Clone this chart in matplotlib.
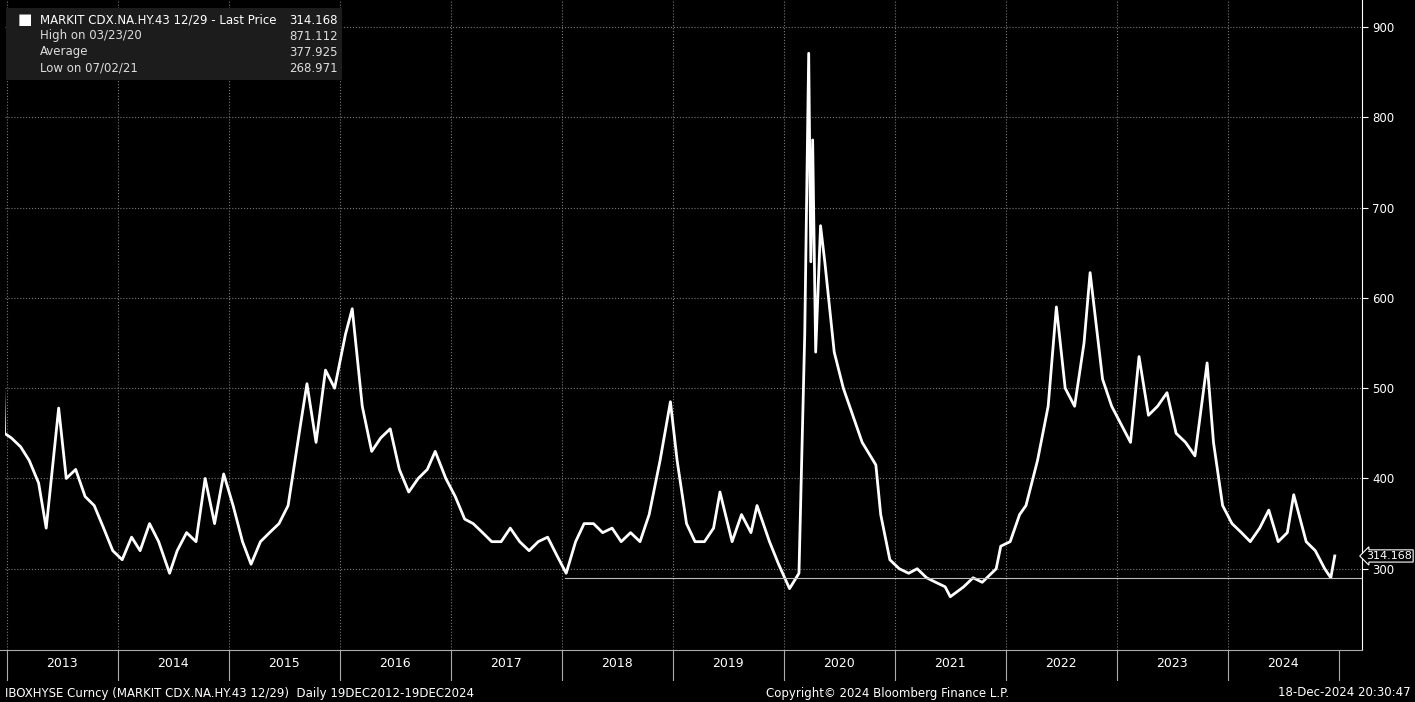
import pandas as pd
import matplotlib
matplotlib.use("Agg")
import matplotlib.pyplot as plt
import matplotlib.dates as mdates

# monthly-ish readings of MARKIT CDX.NA.HY (bp)
dates = ["2012-12-19", "2012-12-24", "2013-01-15", "2013-02-15", "2013-03-15", "2013-04-15", "2013-05-10", "2013-06-20",
         "2013-07-15", "2013-08-15", "2013-09-15", "2013-10-15", "2013-11-15", "2013-12-15",
         "2014-01-15", "2014-02-15", "2014-03-15", "2014-04-15", "2014-05-15", "2014-06-20", "2014-07-15", "2014-08-15",
         "2014-09-15", "2014-10-15", "2014-11-15", "2014-12-15",
         "2015-01-15", "2015-02-15", "2015-03-15", "2015-04-15", "2015-05-15", "2015-06-15", "2015-07-15", "2015-08-25",
         "2015-09-15", "2015-10-15", "2015-11-15", "2015-12-15",
         "2016-01-20", "2016-02-11", "2016-03-15", "2016-04-15", "2016-05-15", "2016-06-15", "2016-07-15", "2016-08-15",
         "2016-09-15", "2016-10-15", "2016-11-10", "2016-12-15",
         "2017-01-15", "2017-02-15", "2017-03-15", "2017-04-15", "2017-05-15", "2017-06-15", "2017-07-15", "2017-08-15",
         "2017-09-15", "2017-10-15", "2017-11-15", "2017-12-15",
         "2018-01-15", "2018-02-15", "2018-03-15", "2018-04-15", "2018-05-15", "2018-06-15", "2018-07-15", "2018-08-15",
         "2018-09-15", "2018-10-15", "2018-11-20", "2018-12-24",
         "2019-01-15", "2019-02-15", "2019-03-15", "2019-04-15", "2019-05-15", "2019-06-05", "2019-07-15", "2019-08-15",
         "2019-09-15", "2019-10-05", "2019-11-15", "2019-12-15",
         "2020-01-20", "2020-02-20", "2020-03-10", "2020-03-23", "2020-03-30", "2020-04-05", "2020-04-15", "2020-05-01",
         "2020-05-15", "2020-06-15", "2020-07-15", "2020-08-15", "2020-09-15", "2020-10-30", "2020-11-15", "2020-12-15",
         "2021-01-15", "2021-02-15", "2021-03-15", "2021-04-15", "2021-05-15", "2021-06-15", "2021-07-02", "2021-08-15",
         "2021-09-15", "2021-10-15", "2021-11-30", "2021-12-15",
         "2022-01-15", "2022-02-15", "2022-03-08", "2022-04-15", "2022-05-20", "2022-06-16", "2022-07-15", "2022-08-15",
         "2022-09-15", "2022-10-05", "2022-11-15", "2022-12-15",
         "2023-01-15", "2023-02-15", "2023-03-15", "2023-04-15", "2023-05-15", "2023-06-15", "2023-07-15", "2023-08-15",
         "2023-09-15", "2023-10-25", "2023-11-15", "2023-12-15",
         "2024-01-15", "2024-02-15", "2024-03-15", "2024-04-15", "2024-05-15", "2024-06-15", "2024-07-15", "2024-08-05",
         "2024-09-15", "2024-10-15", "2024-11-15", "2024-12-05", "2024-12-18"]
values = [530, 450, 445, 435, 420, 395, 345, 478,
          400, 410, 380, 370, 345, 320,
          310, 335, 320, 350, 330, 295, 320, 340,
          330, 400, 350, 405,
          370, 330, 305, 330, 340, 350, 370, 460,
          505, 440, 520, 500,
          560, 588, 480, 430, 445, 455, 410, 385,
          400, 410, 430, 400,
          380, 355, 350, 340, 330, 330, 345, 330,
          320, 330, 335, 315,
          295, 330, 350, 350, 340, 345, 330, 340,
          330, 360, 420, 485,
          420, 350, 330, 330, 345, 385, 330, 360,
          340, 370, 330, 305,
          278, 295, 560, 871, 640, 775, 540, 680,
          640, 540, 500, 470, 440, 415, 360, 310,
          300, 295, 300, 290, 285, 280, 269, 280,
          290, 285, 300, 325,
          330, 360, 370, 420, 480, 590, 500, 480,
          550, 628, 510, 480,
          460, 440, 535, 470, 480, 495, 450, 440,
          425, 528, 440, 370,
          350, 340, 330, 345, 365, 330, 340, 382,
          330, 320, 300, 290, 314.168]

years = list(range(2013, 2025))
yticks = [300, 400, 500, 600, 700, 800, 900]

x = pd.to_datetime(dates)
fig = plt.figure(figsize=(14.15, 7.02), dpi=100, facecolor="black")
ax = fig.add_axes([5/1415, 1-650/702, 1357/1415, 650/702], facecolor="black")
ax.plot(x, values, color="white", lw=2.0)
ax.set_ylim(210, 930)
t0 = pd.Timestamp("2013-01-01")
day_px = 111/365.25
ax.set_xlim(t0 - pd.Timedelta(days=2/day_px), t0 + pd.Timedelta(days=1355/day_px))
ax.axhline(290, xmin=(565-5)/1357, xmax=1, color="#bbbbbb", lw=0.8)

ax.yaxis.tick_right()
ax.set_yticks(yticks)
ax.tick_params(axis="y", colors="white", labelsize=8.5, length=4, direction="out")
ax.set_xticks([pd.Timestamp(f"{y}-01-01") for y in years])
ax.tick_params(axis="x", bottom=False, labelbottom=False)
ax.grid(True, color="#777777", ls=":", lw=0.8)
for s in ["top", "left", "bottom"]:
    ax.spines[s].set_visible(False)
ax.spines["right"].set_color("white")

ax.annotate("314.168", xy=(1.0, 314.168), xycoords=("axes fraction", "data"), xytext=(3, 0),
            textcoords="offset points", va="center", ha="left", color="white", fontsize=8,
            bbox=dict(boxstyle="larrow,pad=0.1", fc="black", ec="white", lw=0.8))

# bottom year bar
bx = fig.add_axes([5/1415, 1-681/702, 1357/1415, 31/702], facecolor="black")
bx.set_xlim(ax.get_xlim())
bx.set_ylim(0, 1)
bx.axis("off")
for y in years + [2025]:
    bx.axvline(mdates.date2num(pd.Timestamp(f"{y}-01-01")), color="#aaaaaa", lw=0.8)
for y in years:
    bx.text(mdates.date2num(pd.Timestamp(f"{y}-07-01")), 0.55, str(y), color="white", fontsize=9,
            ha="center", va="center")
fig.add_artist(plt.Line2D([0, 1362/1415], [1-650/702]*2, color="#aaaaaa", lw=0.8))

# legend box
fig.patches.append(plt.Rectangle((6/1415, 1-80/702), 336/1415, 72/702, transform=fig.transFigure,
                                 fc="#1c1c1c", ec="none"))
fig.text(18/1415, 1-20/702, "\u25a0", color="white", fontsize=11, va="center")
fig.text(40/1415, 1-20/702, "MARKIT CDX.NA.HY.43 12/29 - Last Price", color="white", fontsize=8.5, va="center")
rows = [("High on 03/23/20", "871.112"), ("Average", "377.925"), ("Low on 07/02/21", "268.971")]
for i, (lab, v) in enumerate(rows):
    yy = 1-(36+i*16)/702
    fig.text(40/1415, yy, lab, color="#dddddd", fontsize=8.5, va="center")
    fig.text(338/1415, yy, v, color="#dddddd", fontsize=8.5, va="center", ha="right")
fig.text(338/1415, 1-20/702, "314.168", color="white", fontsize=8.5, va="center", ha="right")

# footer
fig.text(5/1415, 1-693/702, "IBOXHYSE Curncy (MARKIT CDX.NA.HY.43 12/29)  Daily 19DEC2012-19DEC2024",
         color="white", fontsize=8.5, va="center")
fig.text(888/1415, 1-693/702, "Copyright\u00a9 2024 Bloomberg Finance L.P.", color="white", fontsize=8.5,
         va="center", ha="center")
fig.text(1411/1415, 1-693/702, "18-Dec-2024 20:30:47", color="white", fontsize=8.5, va="center", ha="right")

fig.savefig("out.png", dpi=100, facecolor="black")
